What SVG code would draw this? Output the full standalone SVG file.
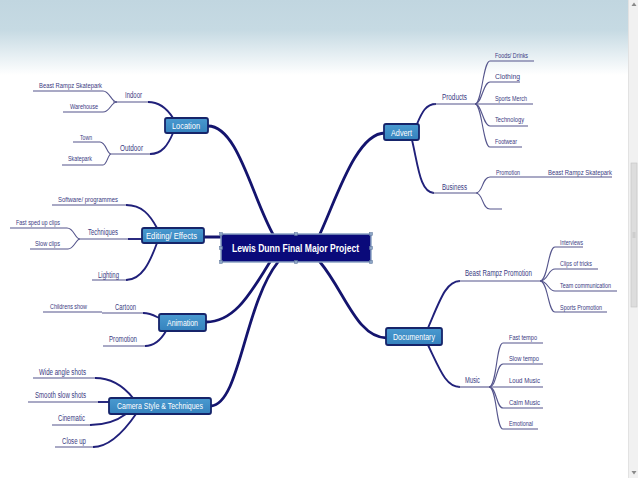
<svg xmlns="http://www.w3.org/2000/svg" width="638" height="478" viewBox="0 0 638 478">
<defs>
<linearGradient id="sky" x1="0" y1="0" x2="0" y2="1">
<stop offset="0" stop-color="#c1d6e0"/>
<stop offset="0.4" stop-color="#c6dae3"/>
<stop offset="1" stop-color="#ffffff"/>
</linearGradient>
<linearGradient id="boxfill" x1="0" y1="0" x2="0" y2="1">
<stop offset="0" stop-color="#4a9ad0"/>
<stop offset="1" stop-color="#3582bd"/>
</linearGradient>
<style>
.lf{font-family:"Liberation Sans",Arial,sans-serif;font-size:7.5px;fill:#3a3a82}
.l2{font-family:"Liberation Sans",Arial,sans-serif;font-size:8.5px;fill:#3a3a82}
.bt{font-family:"Liberation Sans",Arial,sans-serif;font-size:9.5px;fill:#ffffff}
.ct{font-family:"Liberation Sans",Arial,sans-serif;font-size:11.5px;font-weight:bold;fill:#ffffff}
.box{fill:url(#boxfill);stroke:#16246a;stroke-width:1.8}
.thin{fill:none;stroke:#55558c;stroke-width:1.1}
.mid{fill:none;stroke:#20207a;stroke-width:1.9}
.main{fill:none;stroke:#14146e;stroke-width:2.8;stroke-linecap:round}
.hd{fill:#8ea6c6;stroke:#5a7298;stroke-width:0.5}
</style>
</defs>
<rect x="0" y="0" width="638" height="478" fill="#ffffff"/>
<rect x="0" y="0" width="628" height="75" fill="url(#sky)"/>

<g id="connectors">
<path class="main" d="M208,126 C238,126 252,198 274,236"/>
<path class="main" d="M385,133 C356,133 336,200 319,236"/>
<path class="main" d="M204,237 H222"/>
<path class="main" d="M206,322 C236,322 252,290 270,262"/>
<path class="main" d="M211,406 C240,404 244,305 278,262"/>
<path class="main" d="M320,262 C345,292 357,338 387,338"/>
</g>

<g id="location">
<path class="thin" d="M33,91 H103 C110,91 111,102 117,102"/>
<path class="thin" d="M63,112 H103 C110,112 111,102 117,102"/>
<path class="thin" d="M113,102 H150"/>
<path class="mid" d="M148,102 C160,102 168,110 173,118"/>
<path class="thin" d="M73,142 H100 C106,142 107,154 111,154"/>
<path class="thin" d="M62,165 H103 C107,165 108,154 111,154"/>
<path class="thin" d="M111,154 H152"/>
<path class="mid" d="M150,154 C162,154 168,145 173,133"/>
<text class="lf" x="39" y="87.5" textLength="63" lengthAdjust="spacingAndGlyphs">Beast Rampz Skatepark</text>
<text class="lf" x="70" y="108.5" textLength="28" lengthAdjust="spacingAndGlyphs">Warehouse</text>
<text class="l2" x="125" y="98" textLength="17" lengthAdjust="spacingAndGlyphs">Indoor</text>
<text class="lf" x="80" y="139.5" textLength="12" lengthAdjust="spacingAndGlyphs">Town</text>
<text class="lf" x="68" y="160.5" textLength="24" lengthAdjust="spacingAndGlyphs">Skatepark</text>
<text class="l2" x="120" y="151" textLength="23" lengthAdjust="spacingAndGlyphs">Outdoor</text>
<rect class="box" x="165" y="118" width="43" height="15" rx="2"/>
<text class="bt" x="172" y="128.8" textLength="28" lengthAdjust="spacingAndGlyphs">Location</text>
</g>

<g id="editing">
<path class="thin" d="M52,205 H128"/>
<path class="mid" d="M126,205 C142,205 150,215 157,228"/>
<path class="thin" d="M10,228 H67 C74,228 75,239 80,239"/>
<path class="thin" d="M30,249 H68 C74,249 76,239 80,239"/>
<path class="thin" d="M80,239 H130"/>
<path class="mid" d="M128,239 H142"/>
<path class="thin" d="M92,280 H128"/>
<path class="mid" d="M126,280 C142,280 150,262 157,243"/>
<text class="lf" x="58" y="201.5" textLength="60" lengthAdjust="spacingAndGlyphs">Software/ programmes</text>
<text class="l2" x="88" y="235" textLength="30" lengthAdjust="spacingAndGlyphs">Techniques</text>
<text class="lf" x="16" y="224.5" textLength="44" lengthAdjust="spacingAndGlyphs">Fast sped up clips</text>
<text class="lf" x="35" y="245.5" textLength="25" lengthAdjust="spacingAndGlyphs">Slow clips</text>
<text class="l2" x="98" y="278" textLength="21" lengthAdjust="spacingAndGlyphs">Lighting</text>
<rect class="box" x="142" y="228" width="62" height="15" rx="2"/>
<text class="bt" x="146" y="239" textLength="51" lengthAdjust="spacingAndGlyphs">Editing/ Effects</text>
</g>

<g id="animation">
<path class="thin" d="M43,312 H102"/>
<path class="thin" d="M102,313 H145"/>
<path class="mid" d="M143,313 C151,313 155,316 159,318"/>
<path class="thin" d="M103,346 H147"/>
<path class="mid" d="M145,346 C155,346 162,338 166,331"/>
<text class="lf" x="50" y="308.5" textLength="37" lengthAdjust="spacingAndGlyphs">Childrens show</text>
<text class="l2" x="115" y="310" textLength="21" lengthAdjust="spacingAndGlyphs">Cartoon</text>
<text class="l2" x="109" y="342" textLength="28" lengthAdjust="spacingAndGlyphs">Promotion</text>
<rect class="box" x="159" y="314" width="47" height="17" rx="2"/>
<text class="bt" x="167" y="325.8" textLength="31" lengthAdjust="spacingAndGlyphs">Animation</text>
</g>

<g id="camera">
<path class="thin" d="M33,378 H97"/>
<path class="mid" d="M95,378 C112,378 125,388 133,398"/>
<path class="thin" d="M28,402 H100"/>
<path class="mid" d="M98,402 H109"/>
<path class="thin" d="M52,425 H92"/>
<path class="mid" d="M90,425 C105,425 118,420 126,414"/>
<path class="thin" d="M55,447 H95"/>
<path class="mid" d="M93,447 C110,447 125,430 136,414"/>
<text class="l2" x="39" y="375" textLength="47" lengthAdjust="spacingAndGlyphs">Wide angle shots</text>
<text class="l2" x="35" y="398" textLength="51" lengthAdjust="spacingAndGlyphs">Smooth slow shots</text>
<text class="l2" x="58" y="421" textLength="27" lengthAdjust="spacingAndGlyphs">Cinematic</text>
<text class="l2" x="62" y="444" textLength="24" lengthAdjust="spacingAndGlyphs">Close up</text>
<rect class="box" x="109" y="398" width="102" height="16" rx="2"/>
<text class="bt" x="117" y="409.3" textLength="86" lengthAdjust="spacingAndGlyphs">Camera Style &amp; Techniques</text>
</g>

<g id="advert">
<path class="mid" d="M417,124 C422,112 426,104 436,104"/>
<path class="thin" d="M434,104 H475"/>
<path class="thin" d="M475,104 C482,104 483,61 490,61 H534"/>
<path class="thin" d="M475,104 C482,104 483,82 490,82 H520"/>
<path class="thin" d="M475,104 H533"/>
<path class="thin" d="M475,104 C482,104 483,126 490,126 H528"/>
<path class="thin" d="M475,104 C482,104 483,147 490,147 H522"/>
<path class="mid" d="M412,140 C418,165 420,193 434,193"/>
<path class="thin" d="M432,193 H476"/>
<path class="thin" d="M476,193 C483,193 482,177 490,177 H612"/>
<path class="thin" d="M476,193 C483,193 482,209 490,209 H502"/>
<text class="l2" x="442" y="100" textLength="25" lengthAdjust="spacingAndGlyphs">Products</text>
<text class="lf" x="495" y="57.5" textLength="33" lengthAdjust="spacingAndGlyphs">Foods/ Drinks</text>
<text class="lf" x="495" y="78.5" textLength="25" lengthAdjust="spacingAndGlyphs">Clothing</text>
<text class="lf" x="495" y="100.5" textLength="32" lengthAdjust="spacingAndGlyphs">Sports Merch</text>
<text class="lf" x="495" y="121.5" textLength="29" lengthAdjust="spacingAndGlyphs">Technology</text>
<text class="lf" x="495" y="143.5" textLength="22" lengthAdjust="spacingAndGlyphs">Footwear</text>
<text class="l2" x="442" y="190" textLength="25" lengthAdjust="spacingAndGlyphs">Business</text>
<text class="lf" x="496" y="174.5" textLength="24" lengthAdjust="spacingAndGlyphs">Promotion</text>
<text class="lf" x="548" y="174.5" textLength="64" lengthAdjust="spacingAndGlyphs">Beast Rampz Skatepark</text>
<rect class="box" x="384" y="124" width="35" height="16" rx="2"/>
<text class="bt" x="391" y="135.5" textLength="21" lengthAdjust="spacingAndGlyphs">Advert</text>
</g>

<g id="documentary">
<path class="mid" d="M428,328 C440,300 446,281 460,281"/>
<path class="thin" d="M458,281 H540"/>
<path class="thin" d="M540,281 C548,281 548,247 555,247 H583"/>
<path class="thin" d="M540,281 C548,281 548,269 555,269 H598"/>
<path class="thin" d="M540,281 C548,281 548,291 555,291 H617"/>
<path class="thin" d="M540,281 C548,281 548,312 555,312 H607"/>
<path class="mid" d="M428,345 C440,370 446,387 460,387"/>
<path class="thin" d="M458,387 H489"/>
<path class="thin" d="M489,387 C497,387 496,343 503,343 H543"/>
<path class="thin" d="M489,387 C497,387 496,364 503,364 H543"/>
<path class="thin" d="M489,387 H543"/>
<path class="thin" d="M489,387 C497,387 496,408 503,408 H543"/>
<path class="thin" d="M489,387 C497,387 496,429 503,429 H538"/>
<text class="l2" x="465" y="276" textLength="67" lengthAdjust="spacingAndGlyphs">Beast Rampz Promotion</text>
<text class="lf" x="560" y="244.5" textLength="23" lengthAdjust="spacingAndGlyphs">Interviews</text>
<text class="lf" x="560" y="265.5" textLength="32" lengthAdjust="spacingAndGlyphs">Clips of tricks</text>
<text class="lf" x="560" y="287.5" textLength="51" lengthAdjust="spacingAndGlyphs">Team communication</text>
<text class="lf" x="560" y="309.5" textLength="42" lengthAdjust="spacingAndGlyphs">Sports Promotion</text>
<text class="l2" x="465" y="383" textLength="15" lengthAdjust="spacingAndGlyphs">Music</text>
<text class="lf" x="509" y="339.5" textLength="28" lengthAdjust="spacingAndGlyphs">Fast tempo</text>
<text class="lf" x="509" y="360.5" textLength="30" lengthAdjust="spacingAndGlyphs">Slow tempo</text>
<text class="lf" x="509" y="382.5" textLength="31" lengthAdjust="spacingAndGlyphs">Loud Music</text>
<text class="lf" x="509" y="404.5" textLength="31" lengthAdjust="spacingAndGlyphs">Calm Music</text>
<text class="lf" x="509" y="425.5" textLength="24" lengthAdjust="spacingAndGlyphs">Emotional</text>
<rect class="box" x="386" y="328" width="56" height="17" rx="2"/>
<text class="bt" x="393" y="339.8" textLength="42" lengthAdjust="spacingAndGlyphs">Documentary</text>
</g>

<g id="center">
<rect x="221" y="234" width="150" height="28" fill="#0a0a7a" stroke="#8aa2c4" stroke-width="1.5"/>
<text class="ct" x="232" y="252" textLength="127" lengthAdjust="spacingAndGlyphs">Lewis Dunn Final Major Project</text>
<rect class="hd" x="219.5" y="232.5" width="3" height="3"/>
<rect class="hd" x="294.5" y="232.5" width="3" height="3"/>
<rect class="hd" x="369.5" y="232.5" width="3" height="3"/>
<rect class="hd" x="219.5" y="246.5" width="3" height="3"/>
<rect class="hd" x="369.5" y="246.5" width="3" height="3"/>
<rect class="hd" x="219.5" y="260.5" width="3" height="3"/>
<rect class="hd" x="294.5" y="260.5" width="3" height="3"/>
<rect class="hd" x="369.5" y="260.5" width="3" height="3"/>
</g>

<g id="scrollbar">
<rect x="628" y="0" width="10" height="478" fill="#f1f1f1"/>
<line x1="628.5" y1="0" x2="628.5" y2="478" stroke="#e2e2e2"/>
<rect x="631" y="163" width="6" height="144" fill="#dddddd" stroke="#c4c4c4" stroke-width="0.6"/>
<path d="M632.5,233 H635.5 M632.5,235 H635.5 M632.5,237 H635.5" stroke="#a8a8a8" stroke-width="0.6"/>
<path d="M631.5,6 L634,2.5 L636.5,6 Z" fill="#8a8a8a"/>
<path d="M631.5,471 L634,474.5 L636.5,471 Z" fill="#8a8a8a"/>
</g>
</svg>
